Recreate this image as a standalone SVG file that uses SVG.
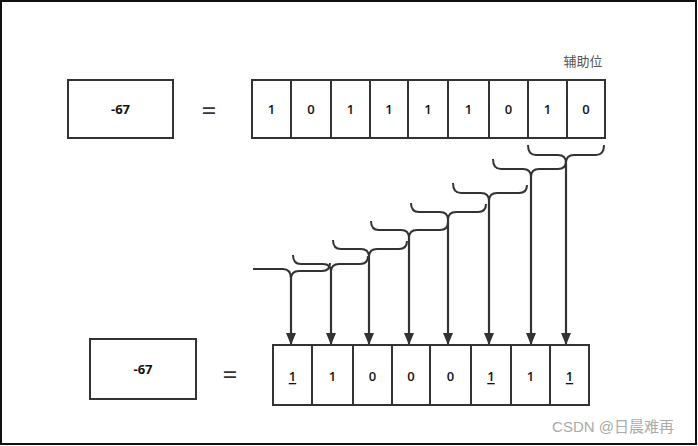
<svg xmlns="http://www.w3.org/2000/svg" width="698" height="446" viewBox="0 0 698 446">
<defs>
<marker id="ah" markerWidth="12" markerHeight="10" refX="12" refY="5" orient="auto" markerUnits="userSpaceOnUse" viewBox="0 0 12 10">
<path d="M0,0 L12,5 L0,10 Z" fill="#333"/>
</marker>
</defs>
<style>
.box{fill:#fff;stroke:#333;stroke-width:2}
.t{font-family:"Open Sans","Liberation Sans",sans-serif;font-size:13px;fill:#111;text-anchor:middle;dominant-baseline:central;font-weight:600}
.b{font-weight:bold}
.eq{font-family:"Open Sans","Liberation Sans",sans-serif;font-size:26px;fill:#333;text-anchor:middle;dominant-baseline:central}
.br{fill:none;stroke:#333;stroke-width:2}
.st{fill:none;stroke:#333;stroke-width:2.2;marker-end:url(#ah)}
.u{text-decoration:underline}
</style>
<rect x="1" y="1" width="695" height="443" fill="#fff" stroke="#111" stroke-width="2"/>
<g id="num-top">
<rect class="box" x="68" y="80" width="105" height="58"/>
<text class="t b" x="120.5" y="109">-67</text>
</g>
<g id="eq-top"><text class="eq" x="209" y="110">=</text></g>
<g id="label-aux"><text x="583" y="60" font-family="'Noto Sans CJK SC',sans-serif" font-size="13" fill="#555" text-anchor="middle" dominant-baseline="central">辅助位</text></g>
<g id="bits-top">
<rect class="box" x="252" y="80" width="39" height="58"/><text class="t" x="271.5" y="109">1</text>
<rect class="box" x="291" y="80" width="40" height="58"/><text class="t" x="311" y="109">0</text>
<rect class="box" x="331" y="80" width="39" height="58"/><text class="t" x="350.5" y="109">1</text>
<rect class="box" x="370" y="80" width="38" height="58"/><text class="t" x="389" y="109">1</text>
<rect class="box" x="408" y="80" width="40" height="58"/><text class="t" x="428" y="109">1</text>
<rect class="box" x="448" y="80" width="41" height="58"/><text class="t" x="468.5" y="109">1</text>
<rect class="box" x="489" y="80" width="39" height="58"/><text class="t" x="508.5" y="109">0</text>
<rect class="box" x="528" y="80" width="39" height="58"/><text class="t" x="547.5" y="109">1</text>
<rect class="box" x="567" y="80" width="38" height="58"/><text class="t" x="586" y="109">0</text>
</g>
<g id="connectors">
<path class="br" d="M528,145 Q528,155 536,155 H558 Q566,155 566,163 Q566,155 574,155 H596 Q604,155 604,145"/>
<path class="br" d="M493,159 Q493,169 501,169 H523 Q531,169 531,177 Q531,169 539,169 H558 Q566,169 566,161"/>
<path class="br" d="M453,183 Q453,193 461,193 H481 Q489,193 489,201 Q489,193 497,193 H519 Q527,193 527,185"/>
<path class="br" d="M411,203 Q411,212 419,212 H440 Q448,212 448,220 Q448,212 456,212 H478 Q486,212 486,204"/>
<path class="br" d="M371,221 Q371,230 379,230 H401 Q409,230 409,238 Q409,230 417,230 H440 Q448,230 448,222"/>
<path class="br" d="M333,240 Q333,249 341,249 H361 Q369,249 369,257 Q369,249 377,249 H399 Q407,249 407,241"/>
<path class="br" d="M293,255 Q293,264 301,264 H323 Q331,264 331,272 Q331,264 339,264 H360 Q368,264 368,256"/>
<path class="br" d="M253,269 H283 Q291,269 291,279 Q291,271 299,271 H322 Q330,271 330,263"/>
<path class="st" d="M566,163 V345"/>
<path class="st" d="M531,177 V345"/>
<path class="st" d="M489,201 V345"/>
<path class="st" d="M448,220 V345"/>
<path class="st" d="M409,238 V345"/>
<path class="st" d="M369,257 V345"/>
<path class="st" d="M331,272 V345"/>
<path class="st" d="M291,279 V345"/>
</g>
<g id="num-bottom">
<rect class="box" x="90" y="339" width="106" height="60"/>
<text class="t b" x="143" y="369">-67</text>
</g>
<g id="eq-bottom"><text class="eq" x="230" y="374">=</text></g>
<g id="bits-bottom">
<rect class="box" x="273" y="345" width="39" height="60"/><text class="t u" x="292.5" y="376">1</text>
<rect class="box" x="312" y="345" width="41" height="60"/><text class="t" x="332.5" y="376">1</text>
<rect class="box" x="353" y="345" width="39" height="60"/><text class="t" x="372.5" y="376">0</text>
<rect class="box" x="392" y="345" width="38" height="60"/><text class="t" x="411" y="376">0</text>
<rect class="box" x="430" y="345" width="41" height="60"/><text class="t" x="450.5" y="376">0</text>
<rect class="box" x="471" y="345" width="40" height="60"/><text class="t u" x="491" y="376">1</text>
<rect class="box" x="511" y="345" width="39" height="60"/><text class="t" x="530.5" y="376">1</text>
<rect class="box" x="550" y="345" width="39" height="60"/><text class="t u" x="569.5" y="376">1</text>
</g>
<g id="watermark"><text x="613" y="426" font-family="'Liberation Sans','Noto Sans CJK SC',sans-serif" font-size="15" fill="#aaa" text-anchor="middle" dominant-baseline="central">CSDN @日晨难再</text></g>
</svg>
